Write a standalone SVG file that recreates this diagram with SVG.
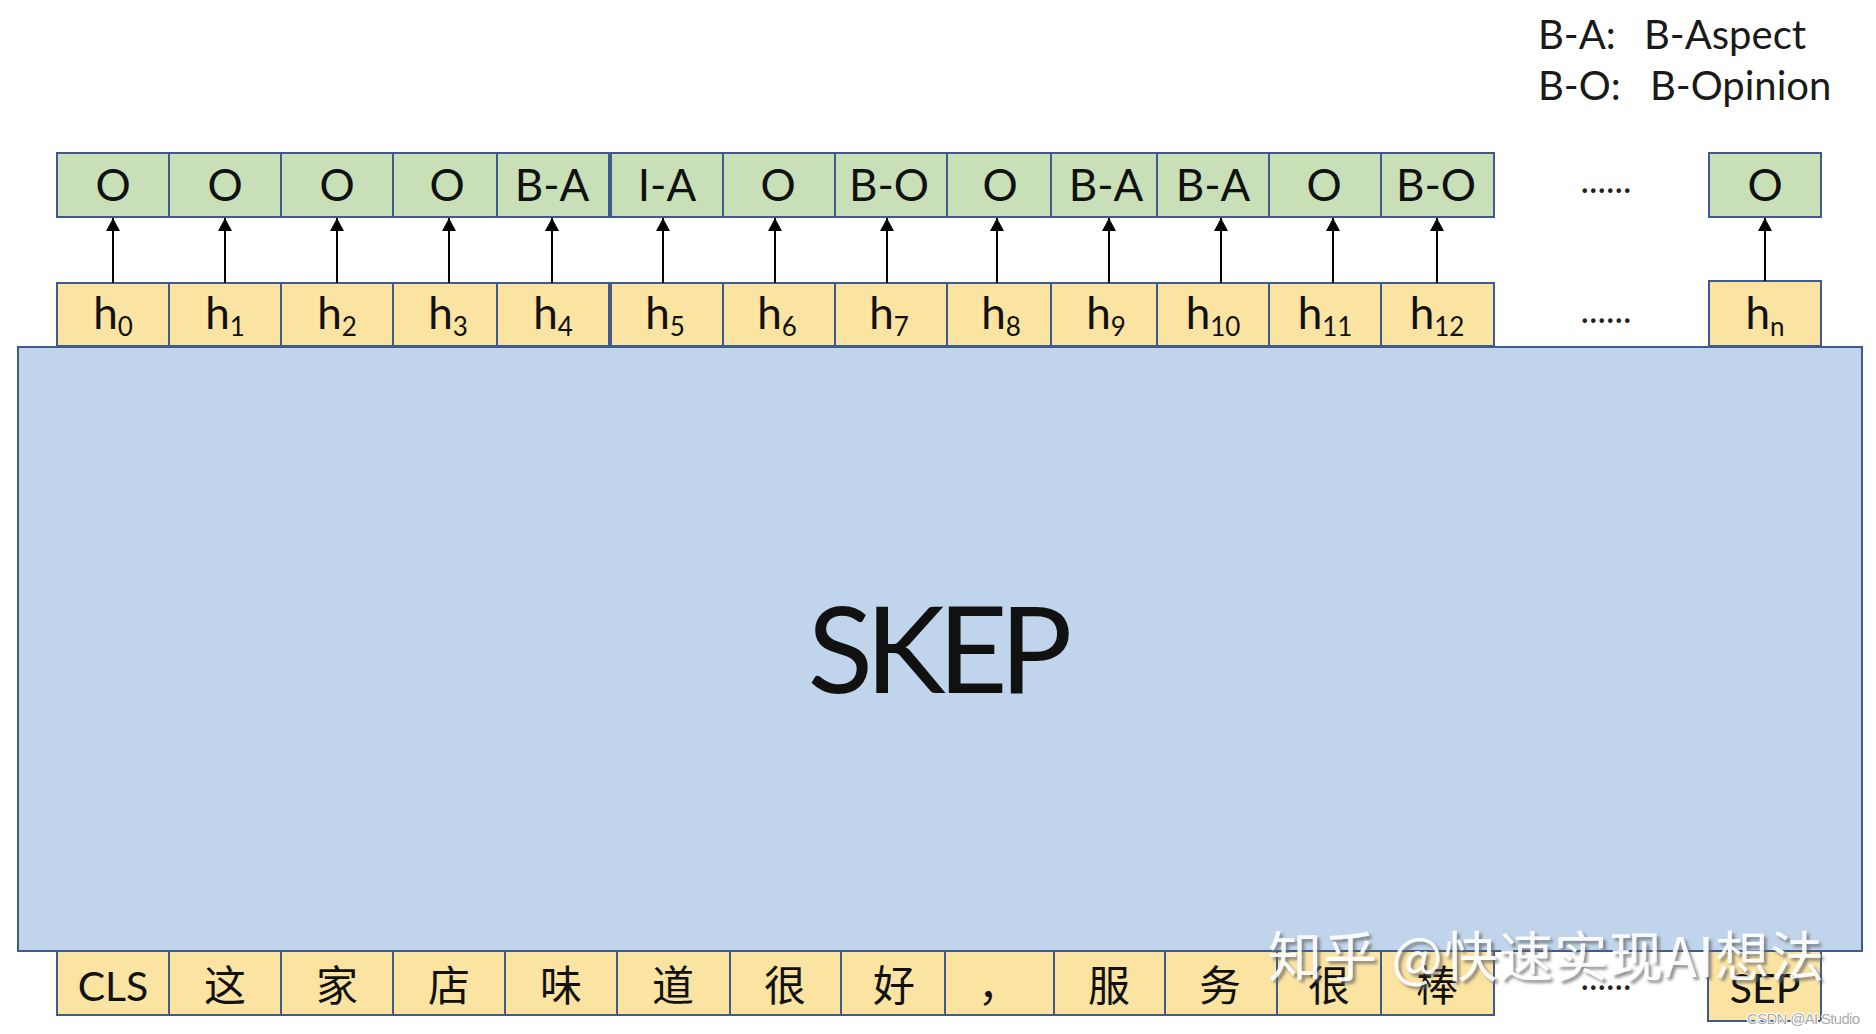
<svg xmlns="http://www.w3.org/2000/svg" width="1876" height="1034" viewBox="0 0 1876 1034">
<defs>
<style>
.g{fill:#C8DFB8;stroke:#3F5A8C;stroke-width:2}
.y{fill:#FBE3A1;stroke:#3F5A8C;stroke-width:2}
.b{fill:#C0D5EB;stroke:#3F5A8C;stroke-width:2}
.lb{font-family:Lato,"Liberation Sans",sans-serif;font-size:44px;fill:#111;text-anchor:middle}
.sub{font-size:26px}
.tk{font-family:"Noto Sans CJK SC","Liberation Sans",sans-serif;font-size:42px;fill:#111;text-anchor:middle}
.lt{font-family:Lato,"Liberation Sans",sans-serif;font-size:41px;fill:#111;text-anchor:middle}
.dots{font-family:Lato,"Liberation Sans",sans-serif;font-size:36px;fill:#222;text-anchor:middle}
.leg{font-family:Lato,"Liberation Sans",sans-serif;font-size:40px;fill:#1a1a1a}
.ar{stroke:#000;stroke-width:2;fill:none;marker-end:url(#ah)}
</style>
<marker id="ah" markerUnits="userSpaceOnUse" markerWidth="14" markerHeight="14" refX="13" refY="7" orient="auto">
<path d="M0,0 L13,7 L0,14 Z" fill="#000"/>
</marker>
<filter id="sh" x="-5%" y="-20%" width="110%" height="150%">
<feDropShadow dx="3" dy="3" stdDeviation="1.5" flood-color="#666" flood-opacity="0.8"/>
</filter>
</defs>
<rect width="1876" height="1034" fill="#fff"/>

<g id="legend">
<text class="leg" x="1538" y="49">B-A:</text>
<text class="leg" x="1644" y="49">B-Aspect</text>
<text class="leg" x="1538" y="100">B-O:</text>
<text class="leg" x="1650" y="100">B-Opinion</text>
</g>

<g id="skep">
<rect class="b" x="18" y="347" width="1844" height="604"/>
<text x="940" y="693" font-family="Lato,'Liberation Sans',sans-serif" font-size="121" fill="#111" text-anchor="middle" textLength="265">SKEP</text>
</g>

<g id="labels">
<g id="l0"><rect class="g" x="57" y="153" width="112" height="64"/><text class="lb" x="113" y="201">O</text></g>
<g id="l1"><rect class="g" x="169" y="153" width="112" height="64"/><text class="lb" x="225" y="201">O</text></g>
<g id="l2"><rect class="g" x="281" y="153" width="112" height="64"/><text class="lb" x="337" y="201">O</text></g>
<g id="l3"><rect class="g" x="393" y="153" width="104" height="64"/><text class="lb" x="447" y="201">O</text></g>
<g id="l4"><rect class="g" x="497" y="153" width="112" height="64"/><text class="lb" x="552" y="201">B-A</text></g>
<g id="l5"><rect class="g" x="611" y="153" width="112" height="64"/><text class="lb" x="667" y="201">I-A</text></g>
<g id="l6"><rect class="g" x="723" y="153" width="112" height="64"/><text class="lb" x="778" y="201">O</text></g>
<g id="l7"><rect class="g" x="835" y="153" width="112" height="64"/><text class="lb" x="889" y="201">B-O</text></g>
<g id="l8"><rect class="g" x="947" y="153" width="104" height="64"/><text class="lb" x="1000" y="201">O</text></g>
<g id="l9"><rect class="g" x="1051" y="153" width="106" height="64"/><text class="lb" x="1106" y="201">B-A</text></g>
<g id="l10"><rect class="g" x="1157" y="153" width="112" height="64"/><text class="lb" x="1213" y="201">B-A</text></g>
<g id="l11"><rect class="g" x="1269" y="153" width="112" height="64"/><text class="lb" x="1324" y="201">O</text></g>
<g id="l12"><rect class="g" x="1381" y="153" width="113" height="64"/><text class="lb" x="1436" y="201">B-O</text></g>
<text class="dots" x="1606" y="193">......</text>
<g id="ln"><rect class="g" x="1709" y="153" width="112" height="64"/><text class="lb" x="1765" y="201">O</text></g>
</g>

<g id="hidden">
<g id="h0"><rect class="y" x="57" y="283" width="112" height="63"/><text class="lb" x="113" y="329">h<tspan class="sub" dy="7">0</tspan></text></g>
<g id="h1"><rect class="y" x="169" y="283" width="112" height="63"/><text class="lb" x="225" y="329">h<tspan class="sub" dy="7">1</tspan></text></g>
<g id="h2"><rect class="y" x="281" y="283" width="112" height="63"/><text class="lb" x="337" y="329">h<tspan class="sub" dy="7">2</tspan></text></g>
<g id="h3"><rect class="y" x="393" y="283" width="104" height="63"/><text class="lb" x="448" y="329">h<tspan class="sub" dy="7">3</tspan></text></g>
<g id="h4"><rect class="y" x="497" y="283" width="112" height="63"/><text class="lb" x="553" y="329">h<tspan class="sub" dy="7">4</tspan></text></g>
<g id="h5"><rect class="y" x="611" y="283" width="112" height="63"/><text class="lb" x="665" y="329">h<tspan class="sub" dy="7">5</tspan></text></g>
<g id="h6"><rect class="y" x="723" y="283" width="112" height="63"/><text class="lb" x="777" y="329">h<tspan class="sub" dy="7">6</tspan></text></g>
<g id="h7"><rect class="y" x="835" y="283" width="112" height="63"/><text class="lb" x="889" y="329">h<tspan class="sub" dy="7">7</tspan></text></g>
<g id="h8"><rect class="y" x="947" y="283" width="104" height="63"/><text class="lb" x="1001" y="329">h<tspan class="sub" dy="7">8</tspan></text></g>
<g id="h9"><rect class="y" x="1051" y="283" width="106" height="63"/><text class="lb" x="1106" y="329">h<tspan class="sub" dy="7">9</tspan></text></g>
<g id="h10"><rect class="y" x="1157" y="283" width="112" height="63"/><text class="lb" x="1213" y="329">h<tspan class="sub" dy="7">10</tspan></text></g>
<g id="h11"><rect class="y" x="1269" y="283" width="112" height="63"/><text class="lb" x="1325" y="329">h<tspan class="sub" dy="7">11</tspan></text></g>
<g id="h12"><rect class="y" x="1381" y="283" width="113" height="63"/><text class="lb" x="1437" y="329">h<tspan class="sub" dy="7">12</tspan></text></g>
<text class="dots" x="1606" y="323">......</text>
<g id="hn"><rect class="y" x="1709" y="281" width="112" height="65"/><text class="lb" x="1765" y="329">h<tspan class="sub" dy="7">n</tspan></text></g>
</g>

<g id="connectors">
<line class="ar" x1="113" y1="283" x2="113" y2="218"/>
<line class="ar" x1="225" y1="283" x2="225" y2="218"/>
<line class="ar" x1="337" y1="283" x2="337" y2="218"/>
<line class="ar" x1="449" y1="283" x2="449" y2="218"/>
<line class="ar" x1="552" y1="283" x2="552" y2="218"/>
<line class="ar" x1="663" y1="283" x2="663" y2="218"/>
<line class="ar" x1="775" y1="283" x2="775" y2="218"/>
<line class="ar" x1="887" y1="283" x2="887" y2="218"/>
<line class="ar" x1="997" y1="283" x2="997" y2="218"/>
<line class="ar" x1="1109" y1="283" x2="1109" y2="218"/>
<line class="ar" x1="1221" y1="283" x2="1221" y2="218"/>
<line class="ar" x1="1333" y1="283" x2="1333" y2="218"/>
<line class="ar" x1="1437" y1="283" x2="1437" y2="218"/>
<line class="ar" x1="1765" y1="281" x2="1765" y2="218"/>
</g>

<g id="tokens">
<g id="t0"><rect class="y" x="57" y="951" width="112" height="64"/><text class="lt" x="113" y="1001">CLS</text></g>
<g id="t1"><rect class="y" x="169" y="951" width="112" height="64"/><text class="tk" x="225" y="1001">这</text></g>
<g id="t2"><rect class="y" x="281" y="951" width="112" height="64"/><text class="tk" x="337" y="1001">家</text></g>
<g id="t3"><rect class="y" x="393" y="951" width="112" height="64"/><text class="tk" x="449" y="1001">店</text></g>
<g id="t4"><rect class="y" x="505" y="951" width="112" height="64"/><text class="tk" x="561" y="1001">味</text></g>
<g id="t5"><rect class="y" x="617" y="951" width="113" height="64"/><text class="tk" x="673" y="1001">道</text></g>
<g id="t6"><rect class="y" x="730" y="951" width="111" height="64"/><text class="tk" x="785" y="1001">很</text></g>
<g id="t7"><rect class="y" x="841" y="951" width="104" height="64"/><text class="tk" x="894" y="1001">好</text></g>
<g id="t8"><rect class="y" x="945" y="951" width="109" height="64"/><text class="tk" x="999" y="1001">，</text></g>
<g id="t9"><rect class="y" x="1054" y="951" width="111" height="64"/><text class="tk" x="1109" y="1001">服</text></g>
<g id="t10"><rect class="y" x="1165" y="951" width="112" height="64"/><text class="tk" x="1220" y="1001">务</text></g>
<g id="t11"><rect class="y" x="1277" y="951" width="104" height="64"/><text class="tk" x="1329" y="1001">很</text></g>
<g id="t12"><rect class="y" x="1381" y="951" width="113" height="64"/><text class="tk" x="1437" y="1001">棒</text></g>
<text class="dots" x="1606" y="990">......</text>
<g id="tsep"><rect class="y" x="1708" y="951" width="113" height="70"/><text class="lt" x="1765" y="1003">SEP</text></g>
</g>

<g id="watermark">
<text x="1268" y="977" font-family="'Noto Sans CJK SC','Liberation Sans',sans-serif" font-size="54" fill="#fff" fill-opacity="0.9" filter="url(#sh)" textLength="556">知乎 @快速实现AI想法</text>
<text x="1747" y="1024" font-family="'Liberation Sans',sans-serif" font-size="15" fill="#aaa" stroke="#fff" stroke-width="2" paint-order="stroke" textLength="113">CSDN @AI Studio</text>
</g>
</svg>
